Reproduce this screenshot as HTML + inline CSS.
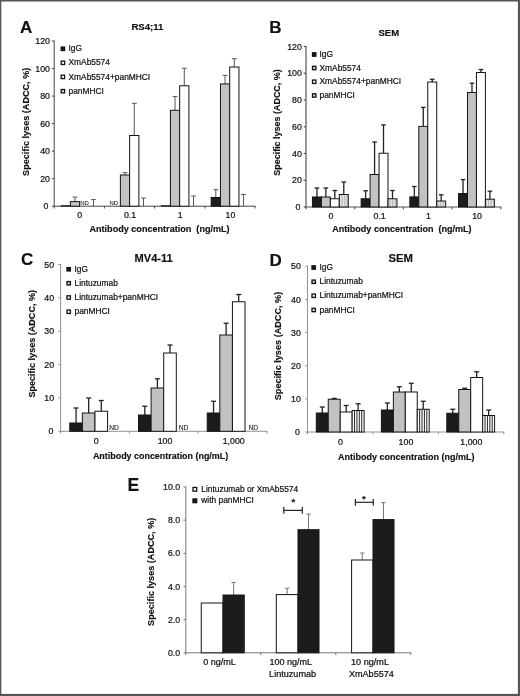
<!DOCTYPE html>
<html><head><meta charset="utf-8"><title>Figure</title>
<style>
html,body{margin:0;padding:0;background:#fff;}
body{width:520px;height:696px;overflow:hidden;position:relative;}
svg{display:block;position:absolute;left:0;top:0;font-family:"Liberation Sans", Arial, sans-serif;}
.frame{position:absolute;left:0;top:0;width:520px;height:696px;box-sizing:border-box;border:1.6px solid #5a5a5a;pointer-events:none;}
</style></head>
<body>
<svg width="520" height="696" viewBox="0 0 520 696">
<defs>
<pattern id="hatch" width="2.4" height="4" patternUnits="userSpaceOnUse"><rect width="2.4" height="4" fill="#fff"/><rect x="0.75" width="1.05" height="4" fill="#111"/></pattern>
<pattern id="dots" width="1.6" height="4" patternUnits="userSpaceOnUse"><rect width="1.6" height="4" fill="#e6e6e6"/><rect x="0" y="0" width="0.7" height="4" fill="#b4b4b4"/></pattern>
</defs>
<rect width="520" height="696" fill="#fff"/>
<line x1="54.20" y1="40.50" x2="54.20" y2="206.70" stroke="#444" stroke-width="1.0"/>
<line x1="53.70" y1="206.20" x2="255.50" y2="206.20" stroke="#444" stroke-width="1.0"/>
<line x1="51.90" y1="206.20" x2="54.20" y2="206.20" stroke="#444" stroke-width="1.0"/>
<text x="48.40" y="209.30" font-size="8.8" text-anchor="end" font-weight="normal" fill="#111" stroke="#111" stroke-width="0.22" >0</text>
<line x1="51.90" y1="178.67" x2="54.20" y2="178.67" stroke="#444" stroke-width="1.0"/>
<text x="50.00" y="181.77" font-size="8.8" text-anchor="end" font-weight="normal" fill="#111" stroke="#111" stroke-width="0.22" >20</text>
<line x1="51.90" y1="151.13" x2="54.20" y2="151.13" stroke="#444" stroke-width="1.0"/>
<text x="50.00" y="154.23" font-size="8.8" text-anchor="end" font-weight="normal" fill="#111" stroke="#111" stroke-width="0.22" >40</text>
<line x1="51.90" y1="123.60" x2="54.20" y2="123.60" stroke="#444" stroke-width="1.0"/>
<text x="50.00" y="126.70" font-size="8.8" text-anchor="end" font-weight="normal" fill="#111" stroke="#111" stroke-width="0.22" >60</text>
<line x1="51.90" y1="96.07" x2="54.20" y2="96.07" stroke="#444" stroke-width="1.0"/>
<text x="50.00" y="99.17" font-size="8.8" text-anchor="end" font-weight="normal" fill="#111" stroke="#111" stroke-width="0.22" >80</text>
<line x1="51.90" y1="68.53" x2="54.20" y2="68.53" stroke="#444" stroke-width="1.0"/>
<text x="50.00" y="71.63" font-size="8.8" text-anchor="end" font-weight="normal" fill="#111" stroke="#111" stroke-width="0.22" >100</text>
<line x1="51.90" y1="41.00" x2="54.20" y2="41.00" stroke="#444" stroke-width="1.0"/>
<text x="50.00" y="44.10" font-size="8.8" text-anchor="end" font-weight="normal" fill="#111" stroke="#111" stroke-width="0.22" >120</text>
<line x1="54.20" y1="206.20" x2="54.20" y2="208.50" stroke="#444" stroke-width="1.0"/>
<line x1="104.40" y1="206.20" x2="104.40" y2="208.50" stroke="#444" stroke-width="1.0"/>
<line x1="154.60" y1="206.20" x2="154.60" y2="208.50" stroke="#444" stroke-width="1.0"/>
<line x1="204.80" y1="206.20" x2="204.80" y2="208.50" stroke="#444" stroke-width="1.0"/>
<line x1="255.00" y1="206.20" x2="255.00" y2="208.50" stroke="#444" stroke-width="1.0"/>
<rect x="61.10" y="205.60" width="9.25" height="0.60" fill="#1c1c1c" stroke="#141414" stroke-width="0.5"/>
<line x1="74.97" y1="197.10" x2="74.97" y2="201.60" stroke="#555" stroke-width="1.0"/>
<line x1="72.57" y1="197.10" x2="77.38" y2="197.10" stroke="#555" stroke-width="1.0"/>
<rect x="70.35" y="201.60" width="9.25" height="4.60" fill="#c2c2c2" stroke="#141414" stroke-width="1.0"/>
<text x="80.20" y="204.70" font-size="5.9" text-anchor="start" font-weight="normal" fill="#222" stroke="#111" stroke-width="0.08" >ND</text>
<line x1="93.47" y1="199.60" x2="93.47" y2="206.20" stroke="#555" stroke-width="1.0"/>
<line x1="91.07" y1="199.60" x2="95.88" y2="199.60" stroke="#555" stroke-width="1.0"/>
<text x="109.53" y="204.70" font-size="5.9" text-anchor="start" font-weight="normal" fill="#222" stroke="#111" stroke-width="0.08" >ND</text>
<line x1="125.00" y1="172.70" x2="125.00" y2="175.00" stroke="#555" stroke-width="1.0"/>
<line x1="122.60" y1="172.70" x2="127.41" y2="172.70" stroke="#555" stroke-width="1.0"/>
<rect x="120.38" y="175.00" width="9.25" height="31.20" fill="#c2c2c2" stroke="#141414" stroke-width="1.0"/>
<line x1="134.25" y1="103.30" x2="134.25" y2="135.50" stroke="#555" stroke-width="1.0"/>
<line x1="131.85" y1="103.30" x2="136.66" y2="103.30" stroke="#555" stroke-width="1.0"/>
<rect x="129.63" y="135.50" width="9.25" height="70.70" fill="#ffffff" stroke="#141414" stroke-width="1.0"/>
<line x1="143.50" y1="198.00" x2="143.50" y2="206.20" stroke="#555" stroke-width="1.0"/>
<line x1="141.10" y1="198.00" x2="145.91" y2="198.00" stroke="#555" stroke-width="1.0"/>
<rect x="161.16" y="205.60" width="9.25" height="0.60" fill="#1c1c1c" stroke="#141414" stroke-width="0.5"/>
<line x1="175.03" y1="96.60" x2="175.03" y2="110.30" stroke="#555" stroke-width="1.0"/>
<line x1="172.63" y1="96.60" x2="177.44" y2="96.60" stroke="#555" stroke-width="1.0"/>
<rect x="170.41" y="110.30" width="9.25" height="95.90" fill="#c2c2c2" stroke="#141414" stroke-width="1.0"/>
<line x1="184.28" y1="68.20" x2="184.28" y2="85.80" stroke="#555" stroke-width="1.0"/>
<line x1="181.88" y1="68.20" x2="186.69" y2="68.20" stroke="#555" stroke-width="1.0"/>
<rect x="179.66" y="85.80" width="9.25" height="120.40" fill="#ffffff" stroke="#141414" stroke-width="1.0"/>
<line x1="193.53" y1="196.00" x2="193.53" y2="206.20" stroke="#555" stroke-width="1.0"/>
<line x1="191.13" y1="196.00" x2="195.94" y2="196.00" stroke="#555" stroke-width="1.0"/>
<line x1="215.81" y1="189.70" x2="215.81" y2="197.50" stroke="#555" stroke-width="1.0"/>
<line x1="213.41" y1="189.70" x2="218.22" y2="189.70" stroke="#555" stroke-width="1.0"/>
<rect x="211.19" y="197.50" width="9.25" height="8.70" fill="#1c1c1c" stroke="#141414" stroke-width="1.0"/>
<line x1="225.06" y1="75.40" x2="225.06" y2="83.90" stroke="#555" stroke-width="1.0"/>
<line x1="222.66" y1="75.40" x2="227.47" y2="75.40" stroke="#555" stroke-width="1.0"/>
<rect x="220.44" y="83.90" width="9.25" height="122.30" fill="#c2c2c2" stroke="#141414" stroke-width="1.0"/>
<line x1="234.31" y1="58.70" x2="234.31" y2="67.00" stroke="#555" stroke-width="1.0"/>
<line x1="231.91" y1="58.70" x2="236.72" y2="58.70" stroke="#555" stroke-width="1.0"/>
<rect x="229.69" y="67.00" width="9.25" height="139.20" fill="#ffffff" stroke="#141414" stroke-width="1.0"/>
<line x1="243.56" y1="194.40" x2="243.56" y2="206.20" stroke="#555" stroke-width="1.0"/>
<line x1="241.16" y1="194.40" x2="245.97" y2="194.40" stroke="#555" stroke-width="1.0"/>
<text x="79.80" y="218.20" font-size="8.8" text-anchor="middle" font-weight="normal" fill="#111" stroke="#111" stroke-width="0.22" >0</text>
<text x="130.00" y="218.20" font-size="8.8" text-anchor="middle" font-weight="normal" fill="#111" stroke="#111" stroke-width="0.22" >0.1</text>
<text x="180.20" y="218.20" font-size="8.8" text-anchor="middle" font-weight="normal" fill="#111" stroke="#111" stroke-width="0.22" >1</text>
<text x="230.40" y="218.20" font-size="8.8" text-anchor="middle" font-weight="normal" fill="#111" stroke="#111" stroke-width="0.22" >10</text>
<text x="159.55" y="232.20" font-size="9.08" text-anchor="middle" font-weight="bold" fill="#111" stroke="#111" stroke-width="0.15" >Antibody concentration&#160; (ng/mL)</text>
<text transform="translate(28.60,121.80) rotate(-90)" font-size="9.1" text-anchor="middle" font-weight="bold" fill="#111" stroke="#111" stroke-width="0.15">Specific lyses (ADCC, %)</text>
<text x="147.40" y="30.00" font-size="9.6" text-anchor="middle" font-weight="bold" fill="#111" stroke="#111" stroke-width="0.15" >RS4;11</text>
<text x="20.00" y="33.00" font-size="17" text-anchor="start" font-weight="bold" fill="#111" stroke="#111" stroke-width="0.15" >A</text>
<rect x="61.20" y="47.10" width="3.4" height="3.4" fill="#1c1c1c" stroke="#111" stroke-width="1.3"/>
<text x="68.50" y="51.40" font-size="8.4" text-anchor="start" font-weight="normal" fill="#111" stroke="#111" stroke-width="0.21" >IgG</text>
<rect x="61.20" y="61.10" width="3.4" height="3.4" fill="#ffffff" stroke="#111" stroke-width="1.3"/>
<text x="68.50" y="65.40" font-size="8.4" text-anchor="start" font-weight="normal" fill="#111" stroke="#111" stroke-width="0.21" >XmAb5574</text>
<rect x="61.20" y="75.20" width="3.4" height="3.4" fill="#ffffff" stroke="#111" stroke-width="1.3"/>
<text x="68.50" y="79.50" font-size="8.4" text-anchor="start" font-weight="normal" fill="#111" stroke="#111" stroke-width="0.21" >XmAb5574+panMHCI</text>
<rect x="61.20" y="89.50" width="3.4" height="3.4" fill="#dcdcdc" stroke="#111" stroke-width="1.3"/>
<text x="68.50" y="93.80" font-size="8.4" text-anchor="start" font-weight="normal" fill="#111" stroke="#111" stroke-width="0.21" >panMHCI</text>
<line x1="306.00" y1="46.00" x2="306.00" y2="207.50" stroke="#555" stroke-width="1.2"/>
<line x1="305.50" y1="207.00" x2="501.30" y2="207.00" stroke="#555" stroke-width="1.2"/>
<line x1="303.70" y1="207.00" x2="306.00" y2="207.00" stroke="#555" stroke-width="1.2"/>
<text x="300.30" y="210.10" font-size="8.8" text-anchor="end" font-weight="normal" fill="#111" stroke="#111" stroke-width="0.22" >0</text>
<line x1="303.70" y1="180.25" x2="306.00" y2="180.25" stroke="#555" stroke-width="1.2"/>
<text x="301.90" y="183.35" font-size="8.8" text-anchor="end" font-weight="normal" fill="#111" stroke="#111" stroke-width="0.22" >20</text>
<line x1="303.70" y1="153.50" x2="306.00" y2="153.50" stroke="#555" stroke-width="1.2"/>
<text x="301.90" y="156.60" font-size="8.8" text-anchor="end" font-weight="normal" fill="#111" stroke="#111" stroke-width="0.22" >40</text>
<line x1="303.70" y1="126.75" x2="306.00" y2="126.75" stroke="#555" stroke-width="1.2"/>
<text x="301.90" y="129.85" font-size="8.8" text-anchor="end" font-weight="normal" fill="#111" stroke="#111" stroke-width="0.22" >60</text>
<line x1="303.70" y1="100.00" x2="306.00" y2="100.00" stroke="#555" stroke-width="1.2"/>
<text x="301.90" y="103.10" font-size="8.8" text-anchor="end" font-weight="normal" fill="#111" stroke="#111" stroke-width="0.22" >80</text>
<line x1="303.70" y1="73.25" x2="306.00" y2="73.25" stroke="#555" stroke-width="1.2"/>
<text x="301.90" y="76.35" font-size="8.8" text-anchor="end" font-weight="normal" fill="#111" stroke="#111" stroke-width="0.22" >100</text>
<line x1="303.70" y1="46.50" x2="306.00" y2="46.50" stroke="#555" stroke-width="1.2"/>
<text x="301.90" y="49.60" font-size="8.8" text-anchor="end" font-weight="normal" fill="#111" stroke="#111" stroke-width="0.22" >120</text>
<line x1="306.00" y1="207.00" x2="306.00" y2="209.30" stroke="#555" stroke-width="1.2"/>
<line x1="354.70" y1="207.00" x2="354.70" y2="209.30" stroke="#555" stroke-width="1.2"/>
<line x1="403.40" y1="207.00" x2="403.40" y2="209.30" stroke="#555" stroke-width="1.2"/>
<line x1="452.10" y1="207.00" x2="452.10" y2="209.30" stroke="#555" stroke-width="1.2"/>
<line x1="500.80" y1="207.00" x2="500.80" y2="209.30" stroke="#555" stroke-width="1.2"/>
<line x1="316.93" y1="188.00" x2="316.93" y2="197.00" stroke="#222" stroke-width="1.3"/>
<line x1="314.62" y1="188.00" x2="319.23" y2="188.00" stroke="#222" stroke-width="1.3"/>
<rect x="312.45" y="197.00" width="8.95" height="10.00" fill="#1c1c1c" stroke="#141414" stroke-width="1.0"/>
<line x1="325.88" y1="188.00" x2="325.88" y2="197.00" stroke="#222" stroke-width="1.3"/>
<line x1="323.57" y1="188.00" x2="328.18" y2="188.00" stroke="#222" stroke-width="1.3"/>
<rect x="321.40" y="197.00" width="8.95" height="10.00" fill="#c2c2c2" stroke="#141414" stroke-width="1.0"/>
<line x1="334.82" y1="190.50" x2="334.82" y2="198.75" stroke="#222" stroke-width="1.3"/>
<line x1="332.52" y1="190.50" x2="337.12" y2="190.50" stroke="#222" stroke-width="1.3"/>
<rect x="330.35" y="198.75" width="8.95" height="8.25" fill="#ffffff" stroke="#141414" stroke-width="1.0"/>
<line x1="343.78" y1="182.00" x2="343.78" y2="194.50" stroke="#222" stroke-width="1.3"/>
<line x1="341.48" y1="182.00" x2="346.08" y2="182.00" stroke="#222" stroke-width="1.3"/>
<rect x="339.30" y="194.50" width="8.95" height="12.50" fill="url(#dots)" stroke="#141414" stroke-width="1.0"/>
<line x1="365.62" y1="190.75" x2="365.62" y2="198.75" stroke="#222" stroke-width="1.3"/>
<line x1="363.32" y1="190.75" x2="367.93" y2="190.75" stroke="#222" stroke-width="1.3"/>
<rect x="361.15" y="198.75" width="8.95" height="8.25" fill="#1c1c1c" stroke="#141414" stroke-width="1.0"/>
<line x1="374.57" y1="142.00" x2="374.57" y2="174.50" stroke="#222" stroke-width="1.3"/>
<line x1="372.27" y1="142.00" x2="376.88" y2="142.00" stroke="#222" stroke-width="1.3"/>
<rect x="370.10" y="174.50" width="8.95" height="32.50" fill="#c2c2c2" stroke="#141414" stroke-width="1.0"/>
<line x1="383.52" y1="124.90" x2="383.52" y2="153.25" stroke="#222" stroke-width="1.3"/>
<line x1="381.22" y1="124.90" x2="385.82" y2="124.90" stroke="#222" stroke-width="1.3"/>
<rect x="379.05" y="153.25" width="8.95" height="53.75" fill="#ffffff" stroke="#141414" stroke-width="1.0"/>
<line x1="392.48" y1="190.50" x2="392.48" y2="198.75" stroke="#222" stroke-width="1.3"/>
<line x1="390.18" y1="190.50" x2="394.78" y2="190.50" stroke="#222" stroke-width="1.3"/>
<rect x="388.00" y="198.75" width="8.95" height="8.25" fill="url(#dots)" stroke="#141414" stroke-width="1.0"/>
<line x1="414.32" y1="186.50" x2="414.32" y2="196.90" stroke="#222" stroke-width="1.3"/>
<line x1="412.02" y1="186.50" x2="416.62" y2="186.50" stroke="#222" stroke-width="1.3"/>
<rect x="409.85" y="196.90" width="8.95" height="10.10" fill="#1c1c1c" stroke="#141414" stroke-width="1.0"/>
<line x1="423.27" y1="107.40" x2="423.27" y2="126.40" stroke="#222" stroke-width="1.3"/>
<line x1="420.97" y1="107.40" x2="425.57" y2="107.40" stroke="#222" stroke-width="1.3"/>
<rect x="418.80" y="126.40" width="8.95" height="80.60" fill="#c2c2c2" stroke="#141414" stroke-width="1.0"/>
<line x1="432.22" y1="79.25" x2="432.22" y2="82.00" stroke="#222" stroke-width="1.3"/>
<line x1="429.92" y1="79.25" x2="434.52" y2="79.25" stroke="#222" stroke-width="1.3"/>
<rect x="427.75" y="82.00" width="8.95" height="125.00" fill="#ffffff" stroke="#141414" stroke-width="1.0"/>
<line x1="441.18" y1="194.80" x2="441.18" y2="201.00" stroke="#222" stroke-width="1.3"/>
<line x1="438.88" y1="194.80" x2="443.48" y2="194.80" stroke="#222" stroke-width="1.3"/>
<rect x="436.70" y="201.00" width="8.95" height="6.00" fill="url(#dots)" stroke="#141414" stroke-width="1.0"/>
<line x1="463.03" y1="179.60" x2="463.03" y2="193.50" stroke="#222" stroke-width="1.3"/>
<line x1="460.73" y1="179.60" x2="465.33" y2="179.60" stroke="#222" stroke-width="1.3"/>
<rect x="458.55" y="193.50" width="8.95" height="13.50" fill="#1c1c1c" stroke="#141414" stroke-width="1.0"/>
<line x1="471.98" y1="83.25" x2="471.98" y2="92.50" stroke="#222" stroke-width="1.3"/>
<line x1="469.68" y1="83.25" x2="474.28" y2="83.25" stroke="#222" stroke-width="1.3"/>
<rect x="467.50" y="92.50" width="8.95" height="114.50" fill="#c2c2c2" stroke="#141414" stroke-width="1.0"/>
<line x1="480.93" y1="69.50" x2="480.93" y2="72.50" stroke="#222" stroke-width="1.3"/>
<line x1="478.62" y1="69.50" x2="483.23" y2="69.50" stroke="#222" stroke-width="1.3"/>
<rect x="476.45" y="72.50" width="8.95" height="134.50" fill="#ffffff" stroke="#141414" stroke-width="1.0"/>
<line x1="489.88" y1="191.20" x2="489.88" y2="199.20" stroke="#222" stroke-width="1.3"/>
<line x1="487.58" y1="191.20" x2="492.18" y2="191.20" stroke="#222" stroke-width="1.3"/>
<rect x="485.40" y="199.20" width="8.95" height="7.80" fill="url(#dots)" stroke="#141414" stroke-width="1.0"/>
<text x="330.95" y="219.00" font-size="8.8" text-anchor="middle" font-weight="normal" fill="#111" stroke="#111" stroke-width="0.22" >0</text>
<text x="379.65" y="219.00" font-size="8.8" text-anchor="middle" font-weight="normal" fill="#111" stroke="#111" stroke-width="0.22" >0.1</text>
<text x="428.35" y="219.00" font-size="8.8" text-anchor="middle" font-weight="normal" fill="#111" stroke="#111" stroke-width="0.22" >1</text>
<text x="477.05" y="219.00" font-size="8.8" text-anchor="middle" font-weight="normal" fill="#111" stroke="#111" stroke-width="0.22" >10</text>
<text x="401.95" y="232.30" font-size="9.03" text-anchor="middle" font-weight="bold" fill="#111" stroke="#111" stroke-width="0.15" >Antibody concentration&#160; (ng/mL)</text>
<text transform="translate(279.80,122.50) rotate(-90)" font-size="8.96" text-anchor="middle" font-weight="bold" fill="#111" stroke="#111" stroke-width="0.15">Specific lyses (ADCC, %)</text>
<text x="388.85" y="36.20" font-size="9.6" text-anchor="middle" font-weight="bold" fill="#111" stroke="#111" stroke-width="0.15" >SEM</text>
<text x="269.20" y="33.00" font-size="17" text-anchor="start" font-weight="bold" fill="#111" stroke="#111" stroke-width="0.15" >B</text>
<rect x="312.50" y="52.80" width="3.4" height="3.4" fill="#1c1c1c" stroke="#111" stroke-width="1.3"/>
<text x="319.50" y="57.10" font-size="8.4" text-anchor="start" font-weight="normal" fill="#111" stroke="#111" stroke-width="0.21" >IgG</text>
<rect x="312.50" y="66.30" width="3.4" height="3.4" fill="#d0d0d0" stroke="#111" stroke-width="1.3"/>
<text x="319.50" y="70.60" font-size="8.4" text-anchor="start" font-weight="normal" fill="#111" stroke="#111" stroke-width="0.21" >XmAb5574</text>
<rect x="312.50" y="80.05" width="3.4" height="3.4" fill="#ffffff" stroke="#111" stroke-width="1.3"/>
<text x="319.50" y="84.35" font-size="8.4" text-anchor="start" font-weight="normal" fill="#111" stroke="#111" stroke-width="0.21" >XmAb5574+panMHCI</text>
<rect x="312.50" y="93.80" width="3.4" height="3.4" fill="#dcdcdc" stroke="#111" stroke-width="1.3"/>
<text x="319.50" y="98.10" font-size="8.4" text-anchor="start" font-weight="normal" fill="#111" stroke="#111" stroke-width="0.21" >panMHCI</text>
<line x1="60.60" y1="264.00" x2="60.60" y2="431.80" stroke="#888" stroke-width="0.9"/>
<line x1="60.10" y1="431.30" x2="267.30" y2="431.30" stroke="#888" stroke-width="0.9"/>
<line x1="58.30" y1="431.30" x2="60.60" y2="431.30" stroke="#888" stroke-width="0.9"/>
<text x="53.30" y="434.40" font-size="8.8" text-anchor="end" font-weight="normal" fill="#111" stroke="#111" stroke-width="0.22" >0</text>
<line x1="58.30" y1="397.94" x2="60.60" y2="397.94" stroke="#888" stroke-width="0.9"/>
<text x="54.10" y="401.04" font-size="8.8" text-anchor="end" font-weight="normal" fill="#111" stroke="#111" stroke-width="0.22" >10</text>
<line x1="58.30" y1="364.58" x2="60.60" y2="364.58" stroke="#888" stroke-width="0.9"/>
<text x="54.10" y="367.68" font-size="8.8" text-anchor="end" font-weight="normal" fill="#111" stroke="#111" stroke-width="0.22" >20</text>
<line x1="58.30" y1="331.22" x2="60.60" y2="331.22" stroke="#888" stroke-width="0.9"/>
<text x="54.10" y="334.32" font-size="8.8" text-anchor="end" font-weight="normal" fill="#111" stroke="#111" stroke-width="0.22" >30</text>
<line x1="58.30" y1="297.86" x2="60.60" y2="297.86" stroke="#888" stroke-width="0.9"/>
<text x="54.10" y="300.96" font-size="8.8" text-anchor="end" font-weight="normal" fill="#111" stroke="#111" stroke-width="0.22" >40</text>
<line x1="58.30" y1="264.50" x2="60.60" y2="264.50" stroke="#888" stroke-width="0.9"/>
<text x="54.10" y="267.60" font-size="8.8" text-anchor="end" font-weight="normal" fill="#111" stroke="#111" stroke-width="0.22" >50</text>
<line x1="60.60" y1="431.30" x2="60.60" y2="433.60" stroke="#888" stroke-width="0.9"/>
<line x1="129.33" y1="431.30" x2="129.33" y2="433.60" stroke="#888" stroke-width="0.9"/>
<line x1="198.07" y1="431.30" x2="198.07" y2="433.60" stroke="#888" stroke-width="0.9"/>
<line x1="266.80" y1="431.30" x2="266.80" y2="433.60" stroke="#888" stroke-width="0.9"/>
<line x1="76.07" y1="408.00" x2="76.07" y2="423.00" stroke="#222" stroke-width="1.3"/>
<line x1="73.57" y1="408.00" x2="78.57" y2="408.00" stroke="#222" stroke-width="1.3"/>
<rect x="69.77" y="423.00" width="12.60" height="8.30" fill="#1c1c1c" stroke="#141414" stroke-width="1.0"/>
<line x1="88.67" y1="398.00" x2="88.67" y2="413.00" stroke="#222" stroke-width="1.3"/>
<line x1="86.17" y1="398.00" x2="91.17" y2="398.00" stroke="#222" stroke-width="1.3"/>
<rect x="82.37" y="413.00" width="12.60" height="18.30" fill="#c2c2c2" stroke="#141414" stroke-width="1.0"/>
<line x1="101.27" y1="400.50" x2="101.27" y2="411.25" stroke="#222" stroke-width="1.3"/>
<line x1="98.77" y1="400.50" x2="103.77" y2="400.50" stroke="#222" stroke-width="1.3"/>
<rect x="94.97" y="411.25" width="12.60" height="20.05" fill="#ffffff" stroke="#141414" stroke-width="1.0"/>
<text x="109.17" y="429.60" font-size="6.7" text-anchor="start" font-weight="normal" fill="#222" stroke="#111" stroke-width="0.08" >ND</text>
<line x1="144.80" y1="406.25" x2="144.80" y2="415.00" stroke="#222" stroke-width="1.3"/>
<line x1="142.30" y1="406.25" x2="147.30" y2="406.25" stroke="#222" stroke-width="1.3"/>
<rect x="138.50" y="415.00" width="12.60" height="16.30" fill="#1c1c1c" stroke="#141414" stroke-width="1.0"/>
<line x1="157.40" y1="378.75" x2="157.40" y2="388.00" stroke="#222" stroke-width="1.3"/>
<line x1="154.90" y1="378.75" x2="159.90" y2="378.75" stroke="#222" stroke-width="1.3"/>
<rect x="151.10" y="388.00" width="12.60" height="43.30" fill="#c2c2c2" stroke="#141414" stroke-width="1.0"/>
<line x1="170.00" y1="345.00" x2="170.00" y2="353.00" stroke="#222" stroke-width="1.3"/>
<line x1="167.50" y1="345.00" x2="172.50" y2="345.00" stroke="#222" stroke-width="1.3"/>
<rect x="163.70" y="353.00" width="12.60" height="78.30" fill="#ffffff" stroke="#141414" stroke-width="1.0"/>
<text x="178.70" y="429.60" font-size="6.7" text-anchor="start" font-weight="normal" fill="#222" stroke="#111" stroke-width="0.08" >ND</text>
<line x1="213.53" y1="401.25" x2="213.53" y2="413.00" stroke="#222" stroke-width="1.3"/>
<line x1="211.03" y1="401.25" x2="216.03" y2="401.25" stroke="#222" stroke-width="1.3"/>
<rect x="207.23" y="413.00" width="12.60" height="18.30" fill="#1c1c1c" stroke="#141414" stroke-width="1.0"/>
<line x1="226.13" y1="323.25" x2="226.13" y2="335.00" stroke="#222" stroke-width="1.3"/>
<line x1="223.63" y1="323.25" x2="228.63" y2="323.25" stroke="#222" stroke-width="1.3"/>
<rect x="219.83" y="335.00" width="12.60" height="96.30" fill="#c2c2c2" stroke="#141414" stroke-width="1.0"/>
<line x1="238.73" y1="294.50" x2="238.73" y2="301.75" stroke="#222" stroke-width="1.3"/>
<line x1="236.23" y1="294.50" x2="241.23" y2="294.50" stroke="#222" stroke-width="1.3"/>
<rect x="232.43" y="301.75" width="12.60" height="129.55" fill="#ffffff" stroke="#141414" stroke-width="1.0"/>
<text x="248.43" y="429.60" font-size="6.7" text-anchor="start" font-weight="normal" fill="#222" stroke="#111" stroke-width="0.08" >ND</text>
<text x="96.27" y="444.20" font-size="8.8" text-anchor="middle" font-weight="normal" fill="#111" stroke="#111" stroke-width="0.22" >0</text>
<text x="165.00" y="444.20" font-size="8.8" text-anchor="middle" font-weight="normal" fill="#111" stroke="#111" stroke-width="0.22" >100</text>
<text x="233.73" y="444.20" font-size="8.8" text-anchor="middle" font-weight="normal" fill="#111" stroke="#111" stroke-width="0.22" >1,000</text>
<text x="160.55" y="459.00" font-size="8.94" text-anchor="middle" font-weight="bold" fill="#111" stroke="#111" stroke-width="0.15" >Antibody concentration (ng/mL)</text>
<text transform="translate(34.70,343.80) rotate(-90)" font-size="9.06" text-anchor="middle" font-weight="bold" fill="#111" stroke="#111" stroke-width="0.15">Specific lyses (ADCC, %)</text>
<text x="153.65" y="261.80" font-size="11.1" text-anchor="middle" font-weight="bold" fill="#111" stroke="#111" stroke-width="0.15" >MV4-11</text>
<text x="21.00" y="265.20" font-size="17" text-anchor="start" font-weight="bold" fill="#111" stroke="#111" stroke-width="0.15" >C</text>
<rect x="67.00" y="267.55" width="3.4" height="3.4" fill="#1c1c1c" stroke="#111" stroke-width="1.3"/>
<text x="74.50" y="271.85" font-size="8.4" text-anchor="start" font-weight="normal" fill="#111" stroke="#111" stroke-width="0.21" >IgG</text>
<rect x="67.00" y="281.55" width="3.4" height="3.4" fill="#d0d0d0" stroke="#111" stroke-width="1.3"/>
<text x="74.50" y="285.85" font-size="8.4" text-anchor="start" font-weight="normal" fill="#111" stroke="#111" stroke-width="0.21" >Lintuzumab</text>
<rect x="67.00" y="295.80" width="3.4" height="3.4" fill="#ffffff" stroke="#111" stroke-width="1.3"/>
<text x="74.50" y="300.10" font-size="8.4" text-anchor="start" font-weight="normal" fill="#111" stroke="#111" stroke-width="0.21" >Lintuzumab+panMHCI</text>
<rect x="67.00" y="310.05" width="3.4" height="3.4" fill="#ffffff" stroke="#111" stroke-width="1.3"/>
<text x="74.50" y="314.35" font-size="8.4" text-anchor="start" font-weight="normal" fill="#111" stroke="#111" stroke-width="0.21" >panMHCI</text>
<line x1="307.50" y1="265.80" x2="307.50" y2="432.50" stroke="#888" stroke-width="0.9"/>
<line x1="307.00" y1="432.00" x2="504.30" y2="432.00" stroke="#888" stroke-width="0.9"/>
<line x1="305.20" y1="432.00" x2="307.50" y2="432.00" stroke="#888" stroke-width="0.9"/>
<text x="300.00" y="435.10" font-size="8.8" text-anchor="end" font-weight="normal" fill="#111" stroke="#111" stroke-width="0.22" >0</text>
<line x1="305.20" y1="398.86" x2="307.50" y2="398.86" stroke="#888" stroke-width="0.9"/>
<text x="300.80" y="401.96" font-size="8.8" text-anchor="end" font-weight="normal" fill="#111" stroke="#111" stroke-width="0.22" >10</text>
<line x1="305.20" y1="365.72" x2="307.50" y2="365.72" stroke="#888" stroke-width="0.9"/>
<text x="300.80" y="368.82" font-size="8.8" text-anchor="end" font-weight="normal" fill="#111" stroke="#111" stroke-width="0.22" >20</text>
<line x1="305.20" y1="332.58" x2="307.50" y2="332.58" stroke="#888" stroke-width="0.9"/>
<text x="300.80" y="335.68" font-size="8.8" text-anchor="end" font-weight="normal" fill="#111" stroke="#111" stroke-width="0.22" >30</text>
<line x1="305.20" y1="299.44" x2="307.50" y2="299.44" stroke="#888" stroke-width="0.9"/>
<text x="300.80" y="302.54" font-size="8.8" text-anchor="end" font-weight="normal" fill="#111" stroke="#111" stroke-width="0.22" >40</text>
<line x1="305.20" y1="266.30" x2="307.50" y2="266.30" stroke="#888" stroke-width="0.9"/>
<text x="300.80" y="269.40" font-size="8.8" text-anchor="end" font-weight="normal" fill="#111" stroke="#111" stroke-width="0.22" >50</text>
<line x1="307.50" y1="432.00" x2="307.50" y2="434.30" stroke="#888" stroke-width="0.9"/>
<line x1="372.93" y1="432.00" x2="372.93" y2="434.30" stroke="#888" stroke-width="0.9"/>
<line x1="438.37" y1="432.00" x2="438.37" y2="434.30" stroke="#888" stroke-width="0.9"/>
<line x1="503.80" y1="432.00" x2="503.80" y2="434.30" stroke="#888" stroke-width="0.9"/>
<line x1="322.28" y1="407.00" x2="322.28" y2="413.00" stroke="#222" stroke-width="1.3"/>
<line x1="319.78" y1="407.00" x2="324.78" y2="407.00" stroke="#222" stroke-width="1.3"/>
<rect x="316.30" y="413.00" width="11.95" height="19.00" fill="#1c1c1c" stroke="#141414" stroke-width="1.0"/>
<line x1="334.23" y1="398.40" x2="334.23" y2="399.25" stroke="#222" stroke-width="1.3"/>
<line x1="331.73" y1="398.40" x2="336.73" y2="398.40" stroke="#222" stroke-width="1.3"/>
<rect x="328.25" y="399.25" width="11.95" height="32.75" fill="#c2c2c2" stroke="#141414" stroke-width="1.0"/>
<line x1="346.18" y1="405.50" x2="346.18" y2="412.00" stroke="#222" stroke-width="1.3"/>
<line x1="343.68" y1="405.50" x2="348.68" y2="405.50" stroke="#222" stroke-width="1.3"/>
<rect x="340.20" y="412.00" width="11.95" height="20.00" fill="#ffffff" stroke="#141414" stroke-width="1.0"/>
<line x1="358.12" y1="403.75" x2="358.12" y2="410.50" stroke="#222" stroke-width="1.3"/>
<line x1="355.62" y1="403.75" x2="360.62" y2="403.75" stroke="#222" stroke-width="1.3"/>
<rect x="352.15" y="410.50" width="11.95" height="21.50" fill="#fff" stroke="#141414" stroke-width="1.0"/>
<line x1="354.54" y1="410.50" x2="354.54" y2="432.00" stroke="#1a1a1a" stroke-width="0.95"/>
<line x1="356.93" y1="410.50" x2="356.93" y2="432.00" stroke="#1a1a1a" stroke-width="0.95"/>
<line x1="359.32" y1="410.50" x2="359.32" y2="432.00" stroke="#1a1a1a" stroke-width="0.95"/>
<line x1="361.71" y1="410.50" x2="361.71" y2="432.00" stroke="#1a1a1a" stroke-width="0.95"/>
<line x1="387.38" y1="403.00" x2="387.38" y2="410.00" stroke="#222" stroke-width="1.3"/>
<line x1="384.88" y1="403.00" x2="389.88" y2="403.00" stroke="#222" stroke-width="1.3"/>
<rect x="381.40" y="410.00" width="11.95" height="22.00" fill="#1c1c1c" stroke="#141414" stroke-width="1.0"/>
<line x1="399.32" y1="386.75" x2="399.32" y2="392.00" stroke="#222" stroke-width="1.3"/>
<line x1="396.82" y1="386.75" x2="401.82" y2="386.75" stroke="#222" stroke-width="1.3"/>
<rect x="393.35" y="392.00" width="11.95" height="40.00" fill="#c2c2c2" stroke="#141414" stroke-width="1.0"/>
<line x1="411.27" y1="383.25" x2="411.27" y2="392.00" stroke="#222" stroke-width="1.3"/>
<line x1="408.77" y1="383.25" x2="413.77" y2="383.25" stroke="#222" stroke-width="1.3"/>
<rect x="405.30" y="392.00" width="11.95" height="40.00" fill="#ffffff" stroke="#141414" stroke-width="1.0"/>
<line x1="423.23" y1="401.25" x2="423.23" y2="409.25" stroke="#222" stroke-width="1.3"/>
<line x1="420.73" y1="401.25" x2="425.73" y2="401.25" stroke="#222" stroke-width="1.3"/>
<rect x="417.25" y="409.25" width="11.95" height="22.75" fill="#fff" stroke="#141414" stroke-width="1.0"/>
<line x1="419.64" y1="409.25" x2="419.64" y2="432.00" stroke="#1a1a1a" stroke-width="0.95"/>
<line x1="422.03" y1="409.25" x2="422.03" y2="432.00" stroke="#1a1a1a" stroke-width="0.95"/>
<line x1="424.42" y1="409.25" x2="424.42" y2="432.00" stroke="#1a1a1a" stroke-width="0.95"/>
<line x1="426.81" y1="409.25" x2="426.81" y2="432.00" stroke="#1a1a1a" stroke-width="0.95"/>
<line x1="452.78" y1="409.25" x2="452.78" y2="413.25" stroke="#222" stroke-width="1.3"/>
<line x1="450.28" y1="409.25" x2="455.28" y2="409.25" stroke="#222" stroke-width="1.3"/>
<rect x="446.80" y="413.25" width="11.95" height="18.75" fill="#1c1c1c" stroke="#141414" stroke-width="1.0"/>
<line x1="464.73" y1="388.20" x2="464.73" y2="389.50" stroke="#222" stroke-width="1.3"/>
<line x1="462.23" y1="388.20" x2="467.23" y2="388.20" stroke="#222" stroke-width="1.3"/>
<rect x="458.75" y="389.50" width="11.95" height="42.50" fill="#c2c2c2" stroke="#141414" stroke-width="1.0"/>
<line x1="476.68" y1="371.75" x2="476.68" y2="377.50" stroke="#222" stroke-width="1.3"/>
<line x1="474.18" y1="371.75" x2="479.18" y2="371.75" stroke="#222" stroke-width="1.3"/>
<rect x="470.70" y="377.50" width="11.95" height="54.50" fill="#ffffff" stroke="#141414" stroke-width="1.0"/>
<line x1="488.62" y1="410.00" x2="488.62" y2="415.50" stroke="#222" stroke-width="1.3"/>
<line x1="486.12" y1="410.00" x2="491.12" y2="410.00" stroke="#222" stroke-width="1.3"/>
<rect x="482.65" y="415.50" width="11.95" height="16.50" fill="#fff" stroke="#141414" stroke-width="1.0"/>
<line x1="485.04" y1="415.50" x2="485.04" y2="432.00" stroke="#1a1a1a" stroke-width="0.95"/>
<line x1="487.43" y1="415.50" x2="487.43" y2="432.00" stroke="#1a1a1a" stroke-width="0.95"/>
<line x1="489.82" y1="415.50" x2="489.82" y2="432.00" stroke="#1a1a1a" stroke-width="0.95"/>
<line x1="492.21" y1="415.50" x2="492.21" y2="432.00" stroke="#1a1a1a" stroke-width="0.95"/>
<text x="340.52" y="445.00" font-size="8.8" text-anchor="middle" font-weight="normal" fill="#111" stroke="#111" stroke-width="0.22" >0</text>
<text x="405.95" y="445.00" font-size="8.8" text-anchor="middle" font-weight="normal" fill="#111" stroke="#111" stroke-width="0.22" >100</text>
<text x="471.38" y="445.00" font-size="8.8" text-anchor="middle" font-weight="normal" fill="#111" stroke="#111" stroke-width="0.22" >1,000</text>
<text x="406.25" y="460.20" font-size="9.0" text-anchor="middle" font-weight="bold" fill="#111" stroke="#111" stroke-width="0.15" >Antibody concentration (ng/mL)</text>
<text transform="translate(281.40,346.00) rotate(-90)" font-size="9.15" text-anchor="middle" font-weight="bold" fill="#111" stroke="#111" stroke-width="0.15">Specific lyses (ADCC, %)</text>
<text x="400.70" y="261.70" font-size="11.3" text-anchor="middle" font-weight="bold" fill="#111" stroke="#111" stroke-width="0.15" >SEM</text>
<text x="269.50" y="265.50" font-size="17" text-anchor="start" font-weight="bold" fill="#111" stroke="#111" stroke-width="0.15" >D</text>
<rect x="312.00" y="265.80" width="3.4" height="3.4" fill="#1c1c1c" stroke="#111" stroke-width="1.3"/>
<text x="319.50" y="270.10" font-size="8.4" text-anchor="start" font-weight="normal" fill="#111" stroke="#111" stroke-width="0.21" >IgG</text>
<rect x="312.00" y="280.05" width="3.4" height="3.4" fill="#d0d0d0" stroke="#111" stroke-width="1.3"/>
<text x="319.50" y="284.35" font-size="8.4" text-anchor="start" font-weight="normal" fill="#111" stroke="#111" stroke-width="0.21" >Lintuzumab</text>
<rect x="312.00" y="294.05" width="3.4" height="3.4" fill="#ffffff" stroke="#111" stroke-width="1.3"/>
<text x="319.50" y="298.35" font-size="8.4" text-anchor="start" font-weight="normal" fill="#111" stroke="#111" stroke-width="0.21" >Lintuzumab+panMHCI</text>
<rect x="312.00" y="308.30" width="3.4" height="3.4" fill="#e4e4e4" stroke="#111" stroke-width="1.3"/>
<text x="319.50" y="312.60" font-size="8.4" text-anchor="start" font-weight="normal" fill="#111" stroke="#111" stroke-width="0.21" >panMHCI</text>
<line x1="185.80" y1="486.50" x2="185.80" y2="653.30" stroke="#777" stroke-width="1.0"/>
<line x1="185.30" y1="652.80" x2="411.30" y2="652.80" stroke="#777" stroke-width="1.0"/>
<line x1="183.50" y1="652.80" x2="185.80" y2="652.80" stroke="#777" stroke-width="1.0"/>
<text x="180.20" y="655.90" font-size="8.8" text-anchor="end" font-weight="normal" fill="#111" stroke="#111" stroke-width="0.22" >0.0</text>
<line x1="183.50" y1="619.64" x2="185.80" y2="619.64" stroke="#777" stroke-width="1.0"/>
<text x="180.20" y="622.74" font-size="8.8" text-anchor="end" font-weight="normal" fill="#111" stroke="#111" stroke-width="0.22" >2.0</text>
<line x1="183.50" y1="586.48" x2="185.80" y2="586.48" stroke="#777" stroke-width="1.0"/>
<text x="180.20" y="589.58" font-size="8.8" text-anchor="end" font-weight="normal" fill="#111" stroke="#111" stroke-width="0.22" >4.0</text>
<line x1="183.50" y1="553.32" x2="185.80" y2="553.32" stroke="#777" stroke-width="1.0"/>
<text x="180.20" y="556.42" font-size="8.8" text-anchor="end" font-weight="normal" fill="#111" stroke="#111" stroke-width="0.22" >6.0</text>
<line x1="183.50" y1="520.16" x2="185.80" y2="520.16" stroke="#777" stroke-width="1.0"/>
<text x="180.20" y="523.26" font-size="8.8" text-anchor="end" font-weight="normal" fill="#111" stroke="#111" stroke-width="0.22" >8.0</text>
<line x1="183.50" y1="487.00" x2="185.80" y2="487.00" stroke="#777" stroke-width="1.0"/>
<text x="180.20" y="490.10" font-size="8.8" text-anchor="end" font-weight="normal" fill="#111" stroke="#111" stroke-width="0.22" >10.0</text>
<line x1="185.80" y1="652.80" x2="185.80" y2="655.10" stroke="#777" stroke-width="1.0"/>
<line x1="260.80" y1="652.80" x2="260.80" y2="655.10" stroke="#777" stroke-width="1.0"/>
<line x1="335.80" y1="652.80" x2="335.80" y2="655.10" stroke="#777" stroke-width="1.0"/>
<line x1="410.80" y1="652.80" x2="410.80" y2="655.10" stroke="#777" stroke-width="1.0"/>
<rect x="201.25" y="603.00" width="21.75" height="49.80" fill="#ffffff" stroke="#141414" stroke-width="1.0"/>
<line x1="233.62" y1="582.50" x2="233.62" y2="595.00" stroke="#777" stroke-width="1.0"/>
<line x1="231.43" y1="582.50" x2="235.82" y2="582.50" stroke="#777" stroke-width="1.0"/>
<rect x="223.00" y="595.00" width="21.25" height="57.80" fill="#1c1c1c" stroke="#141414" stroke-width="1.0"/>
<line x1="287.15" y1="588.20" x2="287.15" y2="594.60" stroke="#777" stroke-width="1.0"/>
<line x1="284.95" y1="588.20" x2="289.35" y2="588.20" stroke="#777" stroke-width="1.0"/>
<rect x="276.30" y="594.60" width="21.70" height="58.20" fill="#ffffff" stroke="#141414" stroke-width="1.0"/>
<line x1="308.50" y1="514.10" x2="308.50" y2="529.70" stroke="#777" stroke-width="1.0"/>
<line x1="306.30" y1="514.10" x2="310.70" y2="514.10" stroke="#777" stroke-width="1.0"/>
<rect x="298.00" y="529.70" width="21.00" height="123.10" fill="#1c1c1c" stroke="#141414" stroke-width="1.0"/>
<line x1="362.30" y1="553.00" x2="362.30" y2="560.00" stroke="#777" stroke-width="1.0"/>
<line x1="360.10" y1="553.00" x2="364.50" y2="553.00" stroke="#777" stroke-width="1.0"/>
<rect x="351.60" y="560.00" width="21.40" height="92.80" fill="#ffffff" stroke="#141414" stroke-width="1.0"/>
<line x1="383.50" y1="502.60" x2="383.50" y2="519.60" stroke="#777" stroke-width="1.0"/>
<line x1="381.30" y1="502.60" x2="385.70" y2="502.60" stroke="#777" stroke-width="1.0"/>
<rect x="373.00" y="519.60" width="21.00" height="133.20" fill="#1c1c1c" stroke="#141414" stroke-width="1.0"/>
<line x1="283.80" y1="510.40" x2="302.30" y2="510.40" stroke="#222" stroke-width="1.2"/>
<line x1="283.80" y1="507.00" x2="283.80" y2="513.80" stroke="#222" stroke-width="1.2"/>
<line x1="302.30" y1="507.00" x2="302.30" y2="513.80" stroke="#222" stroke-width="1.2"/>
<text x="293.30" y="504.90" font-size="9.5" text-anchor="middle" font-weight="bold" fill="#111" stroke="#111" stroke-width="0.15" >*</text>
<line x1="355.40" y1="502.30" x2="373.30" y2="502.30" stroke="#222" stroke-width="1.2"/>
<line x1="355.40" y1="498.90" x2="355.40" y2="505.70" stroke="#222" stroke-width="1.2"/>
<line x1="373.30" y1="498.90" x2="373.30" y2="505.70" stroke="#222" stroke-width="1.2"/>
<text x="363.80" y="501.60" font-size="9.5" text-anchor="middle" font-weight="bold" fill="#111" stroke="#111" stroke-width="0.15" >*</text>
<text x="219.60" y="665.20" font-size="9.0" text-anchor="middle" font-weight="normal" fill="#111" stroke="#111" stroke-width="0.23" >0 ng/mL</text>
<text x="290.80" y="665.20" font-size="9.0" text-anchor="middle" font-weight="normal" fill="#111" stroke="#111" stroke-width="0.23" >100 ng/mL</text>
<text x="292.60" y="677.10" font-size="9.1" text-anchor="middle" font-weight="normal" fill="#111" stroke="#111" stroke-width="0.23" >Lintuzumab</text>
<text x="370.00" y="665.20" font-size="9.1" text-anchor="middle" font-weight="normal" fill="#111" stroke="#111" stroke-width="0.23" >10 ng/mL</text>
<text x="371.40" y="677.10" font-size="9.1" text-anchor="middle" font-weight="normal" fill="#111" stroke="#111" stroke-width="0.23" >XmAb5574</text>
<text transform="translate(153.70,571.80) rotate(-90)" font-size="9.1" text-anchor="middle" font-weight="bold" fill="#111" stroke="#111" stroke-width="0.15">Specific lyses (ADCC, %)</text>
<text x="127.50" y="491.30" font-size="17.5" text-anchor="start" font-weight="bold" fill="#111" stroke="#111" stroke-width="0.15" >E</text>
<rect x="193.00" y="487.45" width="3.7" height="3.7" fill="#ffffff" stroke="#111" stroke-width="1.3"/>
<text x="201.30" y="491.90" font-size="8.4" text-anchor="start" font-weight="normal" fill="#111" stroke="#111" stroke-width="0.21" >Lintuzumab or XmAb5574</text>
<rect x="193.00" y="498.95" width="3.7" height="3.7" fill="#1c1c1c" stroke="#111" stroke-width="1.3"/>
<text x="201.30" y="503.40" font-size="8.4" text-anchor="start" font-weight="normal" fill="#111" stroke="#111" stroke-width="0.21" >with panMHCI</text>
<g fill="#555"><rect x="0" y="0" width="520" height="1.5"/><rect x="0" y="0" width="1.3" height="696"/><rect x="517.9" y="0" width="2.1" height="696"/><rect x="0" y="693.9" width="520" height="2.1"/></g>
</svg>
</body></html>
